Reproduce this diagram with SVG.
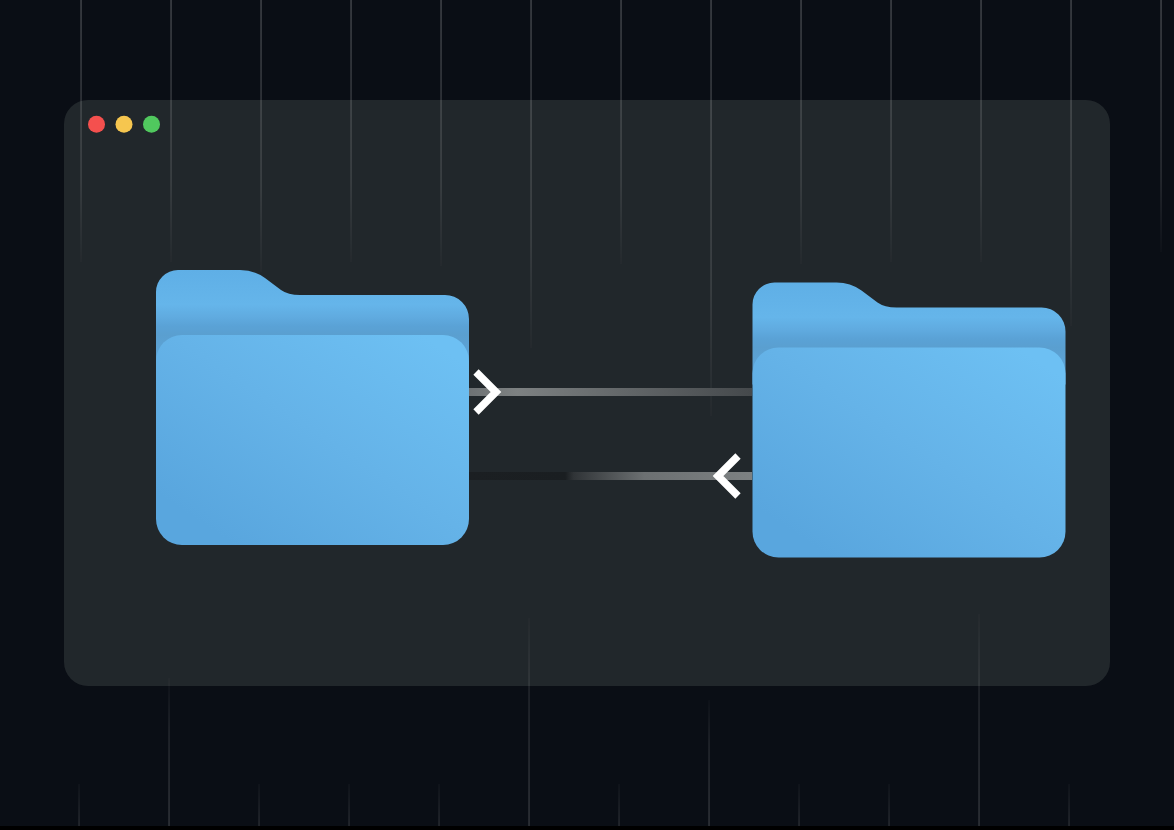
<svg xmlns="http://www.w3.org/2000/svg" width="1174" height="830" viewBox="0 0 1174 830">
<style>
.top{fill:url(#fadeDown)}
.up{fill:url(#fadeUp)}
.upfaint{fill:url(#fadeUpFaint)}
.chev{fill:none;stroke:#fff;stroke-width:7.500}
</style>
<defs>
<linearGradient id="fadeDown" x1="0" y1="0" x2="0" y2="1"><stop offset="0" stop-color="#fff" stop-opacity=".22"/><stop offset=".7" stop-color="#fff" stop-opacity=".13"/><stop offset="1" stop-color="#fff" stop-opacity=".02"/></linearGradient>
<linearGradient id="fadeUp" x1="0" y1="0" x2="0" y2="1"><stop offset="0" stop-color="#fff" stop-opacity=".02"/><stop offset=".35" stop-color="#fff" stop-opacity=".1"/><stop offset="1" stop-color="#fff" stop-opacity=".16"/></linearGradient>
<linearGradient id="fadeUpFaint" x1="0" y1="0" x2="0" y2="1"><stop offset="0" stop-color="#fff" stop-opacity=".03"/><stop offset="1" stop-color="#fff" stop-opacity=".12"/></linearGradient>
<linearGradient id="back" x1="0" y1="270" x2="0" y2="372" gradientUnits="userSpaceOnUse"><stop offset="0" stop-color="#5fafe6"/><stop offset=".34" stop-color="#65b5ea"/><stop offset=".46" stop-color="#60abe0"/><stop offset=".55" stop-color="#5aa2d6"/><stop offset=".64" stop-color="#5a9fd0"/><stop offset="1" stop-color="#60a8dc"/></linearGradient>
<linearGradient id="front" x1=".95" y1=".1" x2=".15" y2=".9"><stop offset="0" stop-color="#6dc0f3"/><stop offset=".5" stop-color="#65b3e8"/><stop offset="1" stop-color="#59a6de"/></linearGradient>
<linearGradient id="fade1" x1="0" y1="0" x2="1" y2="0"><stop offset="0" stop-color="#6e7274"/><stop offset=".17" stop-color="#7d8182"/><stop offset=".5" stop-color="#666a6c"/><stop offset="1" stop-color="#45494c"/></linearGradient>
<linearGradient id="fade2" x1="0" y1="0" x2="1" y2="0"><stop offset="0" stop-color="#1b1f22"/><stop offset=".34" stop-color="#1a1e21"/><stop offset=".37" stop-color="#303437"/><stop offset=".62" stop-color="#6c7072"/><stop offset="1" stop-color="#7d8182"/></linearGradient>
<g id="folder">
<path d="M156 292A22 22 0 0 1 178 270H240Q254 270 265 278L281 290Q288 295 300 295H445A24 24 0 0 1 469 319V372H156Z" fill="url(#back)"/>
<path d="M156 361A26 26 0 0 1 182 335H443A26 26 0 0 1 469 361V519A26 26 0 0 1 443 545H182A26 26 0 0 1 156 519Z" fill="url(#front)"/>
</g>
</defs>
<rect id="background" width="1174" height="830" fill="#0a0e15"/>
<rect id="bottom-edge" y="826" width="1174" height="4" fill="#000"/>
<g id="rain-top">
<rect class="top" x="80.300" width="1.500" height="262"/>
<rect class="top" x="170.300" width="1.500" height="262"/>
<rect class="top" x="260.300" width="1.500" height="272"/>
<rect class="top" x="350.300" width="1.500" height="262"/>
<rect class="top" x="440.300" width="1.500" height="266"/>
<rect class="top" x="530.300" width="1.500" height="348"/>
<rect class="top" x="620.300" width="1.500" height="264"/>
<rect class="top" x="710.300" width="1.500" height="416"/>
<rect class="top" x="800.300" width="1.500" height="264"/>
<rect class="top" x="890.300" width="1.500" height="262"/>
<rect class="top" x="980.300" width="1.500" height="262"/>
<rect class="top" x="1070.300" width="1.500" height="326"/>
<rect class="top" x="1160.300" width="1.500" height="252"/>
</g>
<g id="rain-bottom">
<rect class="up" x="168.300" y="678" width="1.500" height="148"/>
<rect class="up" x="528.300" y="618" width="1.500" height="208"/>
<rect class="up" x="978.300" y="614" width="1.500" height="212"/>
<rect class="up" x="708.300" y="700" width="1.500" height="126"/>
<rect class="upfaint" x="78.300" y="784" width="1.500" height="42"/>
<rect class="upfaint" x="258.300" y="784" width="1.500" height="42"/>
<rect class="upfaint" x="348.300" y="784" width="1.500" height="42"/>
<rect class="upfaint" x="438.300" y="784" width="1.500" height="42"/>
<rect class="upfaint" x="618.300" y="784" width="1.500" height="42"/>
<rect class="upfaint" x="798.300" y="784" width="1.500" height="42"/>
<rect class="upfaint" x="888.300" y="784" width="1.500" height="42"/>
<rect class="upfaint" x="1068.300" y="784" width="1.500" height="42"/>
</g>
<rect id="window" x="64" y="100" width="1046" height="586" rx="24" fill="#cbd6c7" fill-opacity=".125"/>
<g id="window-buttons">
<circle cx="96.500" cy="124.300" r="8.500" fill="#f4504e"/>
<circle cx="124" cy="124.300" r="8.500" fill="#f6c64f"/>
<circle cx="151.500" cy="124.300" r="8.500" fill="#50c85e"/>
</g>
<g id="connectors">
<rect x="469" y="388" width="283" height="8" fill="url(#fade1)"/>
<rect x="469" y="472" width="283" height="8" fill="url(#fade2)"/>
<path class="chev" d="M476 372L496 392L476 412"/>
<path class="chev" d="M738 456L718 476L738 496"/>
</g>
<g id="folder-left"><use href="#folder"/></g>
<g id="folder-right"><use href="#folder" x="596.500" y="12.500"/></g>
</svg>
